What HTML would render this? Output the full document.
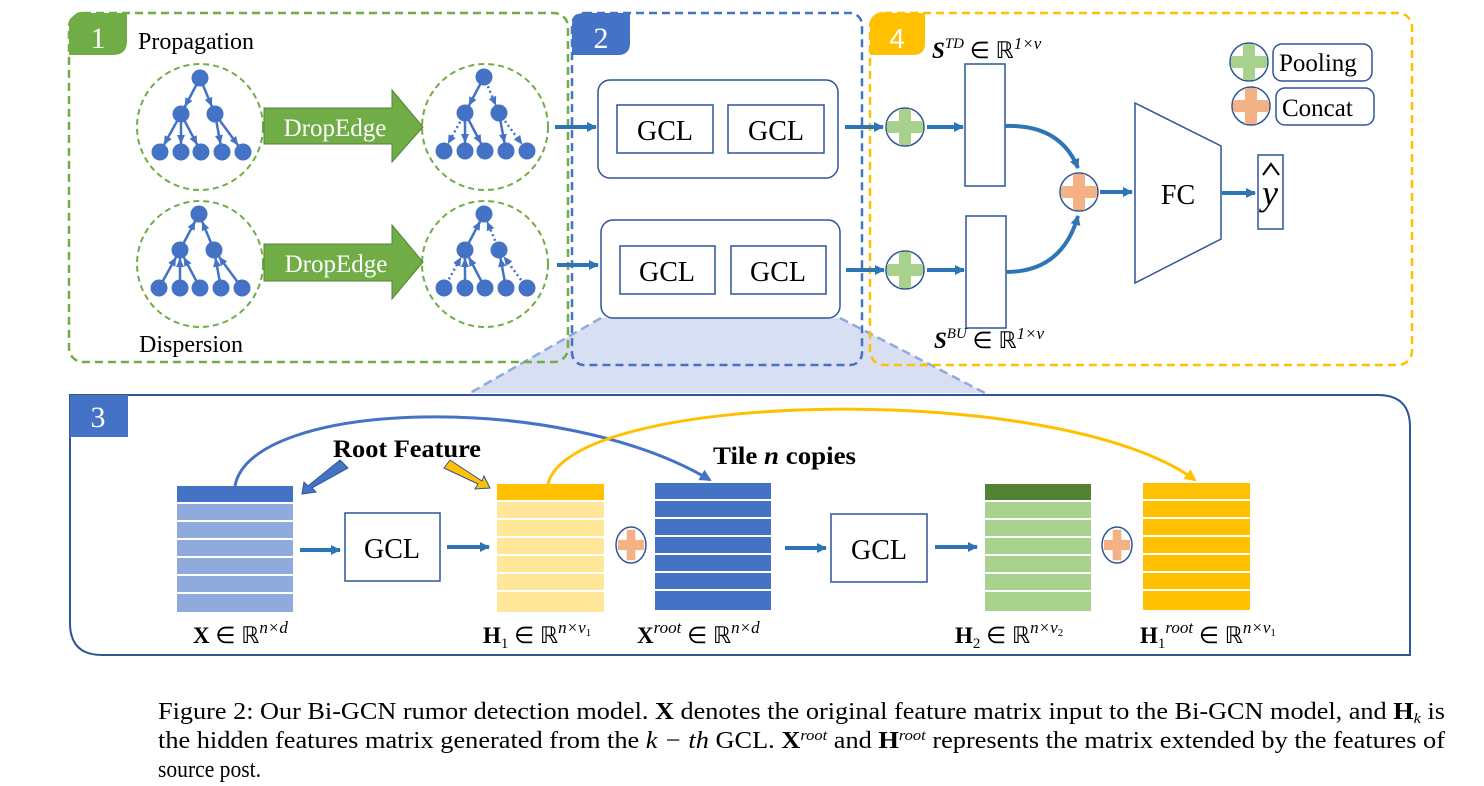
<!DOCTYPE html>
<html><head><meta charset="utf-8"><style>
html,body{margin:0;padding:0;background:#fff;}
svg{display:block;}
.s{font-family:"Liberation Serif",serif;}
</style></head><body>
<svg width="1484" height="786" viewBox="0 0 1484 786" xmlns="http://www.w3.org/2000/svg">
<defs>
<marker id="ah" markerWidth="20" markerHeight="10" refX="17" refY="4" orient="auto" markerUnits="userSpaceOnUse"><path d="M0,0 L9,4 L0,8 z" fill="#4472c4"/></marker>
<marker id="a2" markerWidth="12" markerHeight="12" refX="9" refY="5" orient="auto" markerUnits="userSpaceOnUse"><path d="M0,0 L10,5 L0,10 z" fill="#2e75b6"/></marker>
<marker id="ab" markerWidth="14" markerHeight="14" refX="10" refY="6" orient="auto" markerUnits="userSpaceOnUse"><path d="M0,0 L12,6 L0,12 z" fill="#4472c4"/></marker>
<marker id="ay" markerWidth="14" markerHeight="14" refX="10" refY="6" orient="auto" markerUnits="userSpaceOnUse"><path d="M0,0 L12,6 L0,12 z" fill="#ffc000"/></marker>
<g id="prop">
 <g stroke="#4472c4" stroke-width="2.5" marker-end="url(#ah)">
 <line x1="0" y1="0" x2="-19" y2="36"/><line x1="-19" y1="36" x2="-19" y2="74"/><line x1="-19" y1="36" x2="1" y2="74"/>
 <line x1="15" y1="36" x2="22" y2="74"/>
 </g>
 <g fill="#4472c4"><circle cx="0" cy="0" r="8.5"/><circle cx="-19" cy="36" r="8.5"/><circle cx="15" cy="36" r="8.5"/>
 <circle cx="-40" cy="74" r="8.5"/><circle cx="-19" cy="74" r="8.5"/><circle cx="1" cy="74" r="8.5"/><circle cx="22" cy="74" r="8.5"/><circle cx="43" cy="74" r="8.5"/></g>
</g>
<g id="disp">
 <g stroke="#4472c4" stroke-width="2.5" marker-end="url(#ah)">
 <line x1="-19" y1="36" x2="0" y2="0"/><line x1="-19" y1="74" x2="-19" y2="36"/><line x1="1" y1="74" x2="-19" y2="36"/>
 <line x1="22" y1="74" x2="15" y2="36"/>
 </g>
 <g fill="#4472c4"><circle cx="0" cy="0" r="8.5"/><circle cx="-19" cy="36" r="8.5"/><circle cx="15" cy="36" r="8.5"/>
 <circle cx="-40" cy="74" r="8.5"/><circle cx="-19" cy="74" r="8.5"/><circle cx="1" cy="74" r="8.5"/><circle cx="22" cy="74" r="8.5"/><circle cx="43" cy="74" r="8.5"/></g>
</g>
<path id="plusG" d="M-6,-18 h12 v12 h12 v12 h-12 v12 h-12 v-12 h-12 v-12 h12z" fill="#a9d18e"/>
<path id="plusO" d="M-6,-18 h12 v12 h12 v12 h-12 v12 h-12 v-12 h-12 v-12 h12z" fill="#f4b183"/>
</defs>

<polygon points="601,318 840,318 985,393 470,393" fill="#d9dff2"/>
<line x1="601" y1="318" x2="470" y2="393" stroke="#8faadc" stroke-width="2.5" stroke-dasharray="9,5"/>
<line x1="840" y1="318" x2="985" y2="393" stroke="#8faadc" stroke-width="2.5" stroke-dasharray="9,5"/>

<!-- Section 1 -->
<rect x="69" y="13" width="499" height="349" rx="14" fill="none" stroke="#70ad47" stroke-width="2.5" stroke-dasharray="8,5"/>
<path d="M69,55 L69,27 Q69,13 83,13 L127,13 L127,41 Q127,55 113,55 Z" fill="#70ad47"/>
<text x="98" y="48" class="s" font-size="30" fill="#fff" text-anchor="middle">1</text>
<text x="138" y="49" class="s" font-size="24">Propagation</text>
<text x="139" y="352" class="s" font-size="24">Dispersion</text>
<g fill="none" stroke="#70ad47" stroke-width="2" stroke-dasharray="6,4">
<circle cx="200" cy="127" r="63"/><circle cx="485" cy="127" r="63"/>
<circle cx="200" cy="264" r="63"/><circle cx="485" cy="264" r="63"/>
</g>
<g transform="translate(200,78)"><use href="#prop"/>
 <g stroke="#4472c4" stroke-width="2.5" marker-end="url(#ah)"><line x1="0" y1="0" x2="15" y2="36"/><line x1="-19" y1="36" x2="-40" y2="74"/><line x1="15" y1="36" x2="43" y2="74"/></g></g>
<g transform="translate(484,77)"><use href="#prop"/>
 <g stroke="#4472c4" stroke-width="2.5" stroke-dasharray="2,3" marker-end="url(#ah)"><line x1="0" y1="0" x2="15" y2="36"/><line x1="-19" y1="36" x2="-40" y2="74"/><line x1="15" y1="36" x2="43" y2="74"/></g></g>
<g transform="translate(199,214)"><use href="#disp"/>
 <g stroke="#4472c4" stroke-width="2.5" marker-end="url(#ah)"><line x1="15" y1="36" x2="0" y2="0"/><line x1="-40" y1="74" x2="-19" y2="36"/><line x1="43" y1="74" x2="15" y2="36"/></g></g>
<g transform="translate(484,214)"><use href="#disp"/>
 <g stroke="#4472c4" stroke-width="2.5" stroke-dasharray="2,3" marker-end="url(#ah)"><line x1="15" y1="36" x2="0" y2="0"/><line x1="-40" y1="74" x2="-19" y2="36"/><line x1="43" y1="74" x2="15" y2="36"/></g></g>
<polygon points="264,108 392,108 392,90 423,127 392,162 392,144 264,144" fill="#70ad47" stroke="#548235" stroke-width="1"/>
<text x="335" y="136" class="s" font-size="25" fill="#fff" text-anchor="middle">DropEdge</text>
<polygon points="264,244 392,244 392,225 423,262 392,299 392,281 264,281" fill="#70ad47" stroke="#548235" stroke-width="1"/>
<text x="336" y="272" class="s" font-size="25" fill="#fff" text-anchor="middle">DropEdge</text>

<!-- Section 2 -->
<rect x="572" y="13" width="290" height="352" rx="12" fill="none" stroke="#4472c4" stroke-width="2.5" stroke-dasharray="8,5"/>
<path d="M572,55 L572,25 Q572,13 584,13 L630,13 L630,43 Q630,55 618,55 Z" fill="#4472c4"/>
<text x="601" y="48" class="s" font-size="30" fill="#fff" text-anchor="middle">2</text>
<line x1="555" y1="127" x2="596" y2="127" stroke="#2e75b6" stroke-width="4" marker-end="url(#a2)"/>
<line x1="557" y1="265" x2="598" y2="265" stroke="#2e75b6" stroke-width="4" marker-end="url(#a2)"/>
<rect x="598" y="80" width="240" height="98" rx="12" fill="#fff" stroke="#2f5597" stroke-width="1.5"/>
<rect x="617" y="105" width="96" height="48" fill="#fff" stroke="#2f5597" stroke-width="1.5"/>
<rect x="728" y="105" width="96" height="48" fill="#fff" stroke="#2f5597" stroke-width="1.5"/>
<text x="665" y="140" class="s" font-size="28" text-anchor="middle">GCL</text>
<text x="776" y="140" class="s" font-size="28" text-anchor="middle">GCL</text>
<rect x="601" y="220" width="239" height="98" rx="12" fill="#fff" stroke="#2f5597" stroke-width="1.5"/>
<rect x="620" y="246" width="95" height="48" fill="#fff" stroke="#2f5597" stroke-width="1.5"/>
<rect x="731" y="246" width="95" height="48" fill="#fff" stroke="#2f5597" stroke-width="1.5"/>
<text x="667" y="281" class="s" font-size="28" text-anchor="middle">GCL</text>
<text x="778" y="281" class="s" font-size="28" text-anchor="middle">GCL</text>

<!-- Section 4 -->
<rect x="870" y="13" width="542" height="352" rx="14" fill="none" stroke="#ffc000" stroke-width="2.5" stroke-dasharray="8,5"/>
<path d="M870,55 L870,25 Q870,13 882,13 L925,13 L925,43 Q925,55 913,55 Z" fill="#ffc000"/>
<text x="897" y="48" font-family="Liberation Sans,sans-serif" font-size="28" fill="#fff" text-anchor="middle">4</text>
<line x1="845" y1="127" x2="883" y2="127" stroke="#2e75b6" stroke-width="4" marker-end="url(#a2)"/>
<line x1="846" y1="270" x2="884" y2="270" stroke="#2e75b6" stroke-width="4" marker-end="url(#a2)"/>
<circle cx="905" cy="127" r="19" fill="#fff" stroke="#2f5597" stroke-width="1.5"/><use href="#plusG" x="905" y="127"/>
<circle cx="905" cy="270" r="19" fill="#fff" stroke="#2f5597" stroke-width="1.5"/><use href="#plusG" x="905" y="270"/>
<line x1="927" y1="127" x2="963" y2="127" stroke="#2e75b6" stroke-width="4" marker-end="url(#a2)"/>
<line x1="927" y1="270" x2="964" y2="270" stroke="#2e75b6" stroke-width="4" marker-end="url(#a2)"/>
<rect x="965" y="64" width="40" height="122" fill="#fff" stroke="#2f5597" stroke-width="1.5"/>
<rect x="966" y="216" width="40" height="112" fill="#fff" stroke="#2f5597" stroke-width="1.5"/>
<path d="M1005,126 Q1060,124 1078,168" fill="none" stroke="#2e75b6" stroke-width="4" marker-end="url(#a2)"/>
<path d="M1006,272 Q1062,272 1078,216" fill="none" stroke="#2e75b6" stroke-width="4" marker-end="url(#a2)"/>
<circle cx="1079" cy="192" r="19" fill="#fff" stroke="#2f5597" stroke-width="1.5"/><use href="#plusO" x="1079" y="192"/>
<line x1="1100" y1="192" x2="1132" y2="192" stroke="#2e75b6" stroke-width="4" marker-end="url(#a2)"/>
<polygon points="1135,103 1221,146 1221,239 1135,283" fill="#fff" stroke="#2f5597" stroke-width="1.5"/>
<text x="1178" y="204" class="s" font-size="28" text-anchor="middle">FC</text>
<line x1="1222" y1="193" x2="1255" y2="193" stroke="#2e75b6" stroke-width="4" marker-end="url(#a2)"/>
<rect x="1258" y="155" width="25" height="74" fill="#fff" stroke="#2f5597" stroke-width="1.5"/>
<text x="1270" y="205" class="s" font-size="36" font-style="italic" text-anchor="middle">y</text>
<path d="M1263,175 L1271,164 L1279,175" fill="none" stroke="#000" stroke-width="2"/>
<text x="932" y="58" class="s" font-size="23"><tspan font-weight="bold" font-style="italic">S</tspan><tspan font-size="15" dy="-10" font-style="italic">TD</tspan><tspan dy="10"> ∈ ℝ</tspan><tspan font-size="17" dy="-9" font-style="italic">1×v</tspan></text>
<text x="934" y="348" class="s" font-size="23"><tspan font-weight="bold" font-style="italic">S</tspan><tspan font-size="15" dy="-10" font-style="italic">BU</tspan><tspan dy="10"> ∈ ℝ</tspan><tspan font-size="17" dy="-9" font-style="italic">1×v</tspan></text>
<rect x="1273" y="44" width="99" height="37" rx="9" fill="#fff" stroke="#2f5597" stroke-width="1.5"/>
<text x="1279" y="71" class="s" font-size="25">Pooling</text>
<rect x="1276" y="88" width="98" height="37" rx="9" fill="#fff" stroke="#2f5597" stroke-width="1.5"/>
<text x="1282" y="116" class="s" font-size="25">Concat</text>
<circle cx="1249" cy="62" r="19" fill="#fff" stroke="#2f5597" stroke-width="1.5"/><use href="#plusG" x="1249" y="62"/>
<circle cx="1251" cy="106" r="19" fill="#fff" stroke="#2f5597" stroke-width="1.5"/><use href="#plusO" x="1251" y="106"/>

<!-- Section 3 -->
<path d="M70,395 L1378,395 Q1410,395 1410,427 L1410,655 L102,655 Q70,655 70,623 Z" fill="#fff" stroke="#2f5597" stroke-width="2"/>
<rect x="70" y="395" width="58" height="42" fill="#4472c4"/>
<text x="98" y="427" class="s" font-size="30" fill="#fff" text-anchor="middle">3</text>
<path d="M235,486 C250,400 560,390 710,480" fill="none" stroke="#4472c4" stroke-width="3" marker-end="url(#ab)"/>
<path d="M548,484 C570,390 1060,380 1195,480" fill="none" stroke="#ffc000" stroke-width="3" marker-end="url(#ay)"/>
<rect x="177" y="486" width="116" height="16" fill="#4472c4"/>
<g fill="#8faadc"><rect x="177" y="504" width="116" height="16"/><rect x="177" y="522" width="116" height="16"/><rect x="177" y="540" width="116" height="16"/><rect x="177" y="558" width="116" height="16"/><rect x="177" y="576" width="116" height="16"/><rect x="177" y="594" width="116" height="18"/></g>
<rect x="497" y="484" width="107" height="16" fill="#ffc000"/>
<g fill="#ffe699"><rect x="497" y="502" width="107" height="16"/><rect x="497" y="520" width="107" height="16"/><rect x="497" y="538" width="107" height="16"/><rect x="497" y="556" width="107" height="16"/><rect x="497" y="574" width="107" height="16"/><rect x="497" y="592" width="107" height="20"/></g>
<g fill="#4472c4"><rect x="655" y="483" width="116" height="16"/><rect x="655" y="501" width="116" height="16"/><rect x="655" y="519" width="116" height="16"/><rect x="655" y="537" width="116" height="16"/><rect x="655" y="555" width="116" height="16"/><rect x="655" y="573" width="116" height="16"/><rect x="655" y="591" width="116" height="19"/></g>
<rect x="985" y="484" width="106" height="16" fill="#548235"/>
<g fill="#a9d18e"><rect x="985" y="502" width="106" height="16"/><rect x="985" y="520" width="106" height="16"/><rect x="985" y="538" width="106" height="16"/><rect x="985" y="556" width="106" height="16"/><rect x="985" y="574" width="106" height="16"/><rect x="985" y="592" width="106" height="19"/></g>
<g fill="#ffc000"><rect x="1143" y="483" width="107" height="16"/><rect x="1143" y="501" width="107" height="16"/><rect x="1143" y="519" width="107" height="16"/><rect x="1143" y="537" width="107" height="16"/><rect x="1143" y="555" width="107" height="16"/><rect x="1143" y="573" width="107" height="16"/><rect x="1143" y="591" width="107" height="19"/></g>
<rect x="345" y="513" width="95" height="68" fill="#fff" stroke="#2f5597" stroke-width="1.5"/>
<text x="392" y="558" class="s" font-size="28" text-anchor="middle">GCL</text>
<rect x="831" y="514" width="96" height="68" fill="#fff" stroke="#2f5597" stroke-width="1.5"/>
<text x="879" y="559" class="s" font-size="28" text-anchor="middle">GCL</text>
<g stroke="#2e75b6" stroke-width="4" marker-end="url(#a2)">
<line x1="300" y1="550" x2="340" y2="550"/><line x1="447" y1="547" x2="489" y2="547"/>
<line x1="785" y1="548" x2="826" y2="548"/><line x1="935" y1="547" x2="977" y2="547"/></g>
<ellipse cx="631" cy="545" rx="15" ry="18" fill="#fff" stroke="#2f5597" stroke-width="1.5"/>
<use href="#plusO" transform="translate(631,545) scale(0.72,0.85)"/>
<ellipse cx="1117" cy="545" rx="15" ry="18" fill="#fff" stroke="#2f5597" stroke-width="1.5"/>
<use href="#plusO" transform="translate(1117,545) scale(0.72,0.85)"/>
<text x="333" y="457" font-family="Liberation Serif,serif" font-weight="bold" font-size="25" textLength="148" lengthAdjust="spacingAndGlyphs">Root Feature</text>
<polygon points="340,460 348,468 312,488 316,492 302,494 304,482 308,486" fill="#4472c4" stroke="#2f5597" stroke-width="1"/>
<polygon points="450,460 444,468 478,484 475,489 490,488 484,476 482,481" fill="#ffc000" stroke="#2f5597" stroke-width="1"/>
<text x="713" y="464" font-family="Liberation Serif,serif" font-weight="bold" font-size="25" textLength="143" lengthAdjust="spacingAndGlyphs">Tile <tspan font-style="italic">n</tspan> copies</text>
<g class="s" font-size="23">
<text x="193" y="643"><tspan font-weight="bold">X</tspan> ∈ ℝ<tspan font-size="17" dy="-10" font-style="italic">n×d</tspan></text>
<text x="483" y="643"><tspan font-weight="bold">H</tspan><tspan font-size="15" dy="5">1</tspan><tspan dy="-5"> ∈ ℝ</tspan><tspan font-size="17" dy="-10" font-style="italic">n×v</tspan><tspan font-size="11" dy="3">1</tspan></text>
<text x="637" y="643"><tspan font-weight="bold">X</tspan><tspan font-size="17" dy="-10" font-style="italic">root</tspan><tspan dy="10">  ∈ ℝ</tspan><tspan font-size="17" dy="-10" font-style="italic">n×d</tspan></text>
<text x="955" y="643"><tspan font-weight="bold">H</tspan><tspan font-size="15" dy="5">2</tspan><tspan dy="-5"> ∈ ℝ</tspan><tspan font-size="17" dy="-10" font-style="italic">n×v</tspan><tspan font-size="11" dy="3">2</tspan></text>
<text x="1140" y="643"><tspan font-weight="bold">H</tspan><tspan font-size="15" dy="5">1</tspan><tspan font-size="17" dy="-15" font-style="italic">root</tspan><tspan dy="10">  ∈ ℝ</tspan><tspan font-size="17" dy="-10" font-style="italic">n×v</tspan><tspan font-size="11" dy="3">1</tspan></text>
</g>
<g class="s" font-size="24">
<text x="158" y="719" textLength="1287" lengthAdjust="spacingAndGlyphs">Figure 2: Our Bi-GCN rumor detection model. <tspan font-weight="bold">X</tspan> denotes the original feature matrix input to the Bi-GCN model, and <tspan font-weight="bold">H</tspan><tspan font-size="15" dy="4" font-style="italic">k</tspan><tspan dy="-4"> is</tspan></text>
<text x="158" y="748" textLength="1287" lengthAdjust="spacingAndGlyphs">the hidden features matrix generated from the <tspan font-style="italic">k − th</tspan> GCL. <tspan font-weight="bold">X</tspan><tspan font-size="15" dy="-8" font-style="italic">root</tspan><tspan dy="8"> and </tspan><tspan font-weight="bold">H</tspan><tspan font-size="15" dy="-8" font-style="italic">root</tspan><tspan dy="8"> represents the matrix extended by the features of</tspan></text>
<text x="158" y="777" textLength="103" lengthAdjust="spacingAndGlyphs">source post.</text>
</g>
</svg>
</body></html>
